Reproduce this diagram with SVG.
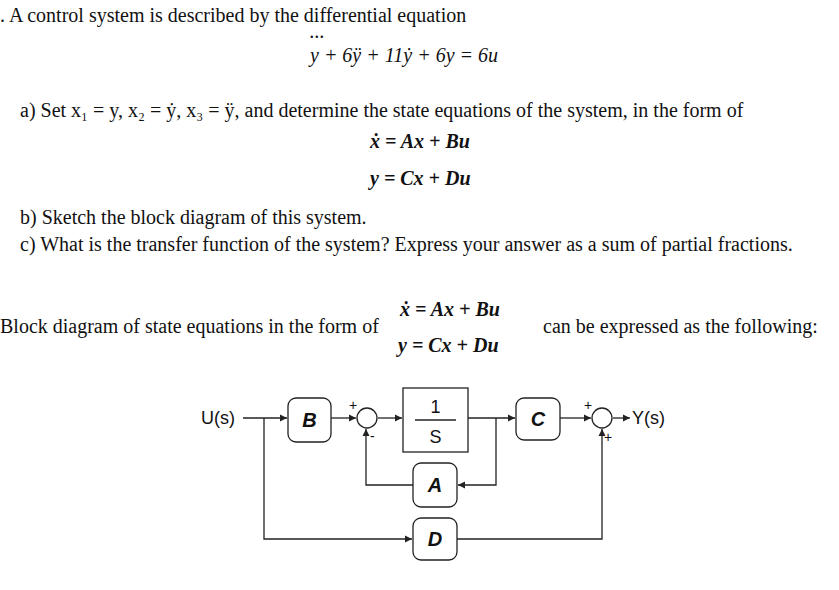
<svg xmlns="http://www.w3.org/2000/svg" width="839" height="590" viewBox="0 0 839 590">
<style>
.t{font-family:"Liberation Serif",serif;font-size:20px;fill:#111}
.m{font-family:"Liberation Serif",serif;font-size:20px;font-style:italic;fill:#111}
.b{font-family:"Liberation Serif",serif;font-size:20px;font-style:italic;font-weight:bold;fill:#111}
.s{font-family:"Liberation Sans",sans-serif;font-size:18px;fill:#111}
.bl{fill:#fff;stroke:#222;stroke-width:1.3}
.bt{font-family:"Liberation Sans",sans-serif;font-size:20px;font-weight:bold;font-style:italic;fill:#111;text-anchor:middle}
.w{fill:none;stroke:#222;stroke-width:1.3}
.sg{font-family:"Liberation Sans",sans-serif;font-size:14px;fill:#111}
</style>
<defs><marker id="ar" markerWidth="8" markerHeight="8" refX="7" refY="4" orient="auto" markerUnits="userSpaceOnUse"><path d="M0,0.5 L7,4 L0,7.5 Z" fill="#222"/></marker></defs>
<rect width="839" height="590" fill="#fff"/>
<text class="t" x="0" y="22">. A control system is described by the differential equation</text>
<text class="m" x="310" y="62">y + 6ÿ + 11ẏ + 6y = 6u</text>
<text class="m" x="309" y="44" font-size="12">···</text>
<text class="t" x="20" y="117">a)  Set x₁ = y, x₂ = ẏ, x₃ = ÿ, and determine the state equations of the system, in the form of</text>
<text class="b" x="370" y="148">ẋ = Ax + Bu</text>
<text class="b" x="370" y="185">y = Cx + Du</text>
<text class="t" x="20" y="224">b)  Sketch the block diagram of this system.</text>
<text class="t" x="20" y="251">c)  What is the transfer function of the system? Express your answer as a sum of partial fractions.</text>
<text class="t" x="0" y="333">Block diagram of state equations in the form of</text>
<text class="b" x="400" y="316">ẋ = Ax + Bu</text>
<text class="b" x="398" y="352">y = Cx + Du</text>
<text class="t" x="543" y="333">can be expressed as the following:</text>
<g id="connectors">
<path class="w" d="M243,418 H287" marker-end="url(#ar)"/>
<path class="w" d="M331,418 H356" marker-end="url(#ar)"/>
<path class="w" d="M378,418 H402" marker-end="url(#ar)"/>
<path class="w" d="M468,418 H515" marker-end="url(#ar)"/>
<path class="w" d="M560,418 H591" marker-end="url(#ar)"/>
<path class="w" d="M613,418 H630" marker-end="url(#ar)"/>
<path class="w" d="M496,418 V485 H458" marker-end="url(#ar)"/>
<path class="w" d="M413,485 H366 V429" marker-end="url(#ar)"/>
<path class="w" d="M264,418 V539 H412" marker-end="url(#ar)"/>
<path class="w" d="M457,539 H602 V429" marker-end="url(#ar)"/>
</g>
<g id="U"><text class="s" x="201" y="424">U(s)</text></g>
<g id="B"><rect class="bl" x="288" y="398" width="43" height="44" rx="8"/><text class="bt" x="309.5" y="427">B</text></g>
<g id="sum1"><circle class="w" cx="367" cy="418" r="10"/><text class="sg" x="349" y="410">+</text><text class="sg" x="370" y="441">-</text></g>
<g id="int"><rect class="bl" x="403" y="388" width="65" height="64"/><text class="s" x="435.5" y="413" text-anchor="middle">1</text><line class="w" x1="415" y1="420" x2="456" y2="420"/><text class="s" x="435.5" y="443" text-anchor="middle">S</text></g>
<g id="C"><rect class="bl" x="516" y="398" width="44" height="42" rx="8"/><text class="bt" x="538" y="426">C</text></g>
<g id="sum2"><circle class="w" cx="602" cy="418" r="10"/><text class="sg" x="584" y="410">+</text><text class="sg" x="604" y="442">+</text></g>
<g id="Y"><text class="s" x="632" y="424">Y(s)</text></g>
<g id="A"><rect class="bl" x="413" y="463" width="44" height="44" rx="8"/><text class="bt" x="435" y="492">A</text></g>
<g id="D"><rect class="bl" x="413" y="518" width="44" height="42" rx="8"/><text class="bt" x="435" y="546">D</text></g>
</svg>
